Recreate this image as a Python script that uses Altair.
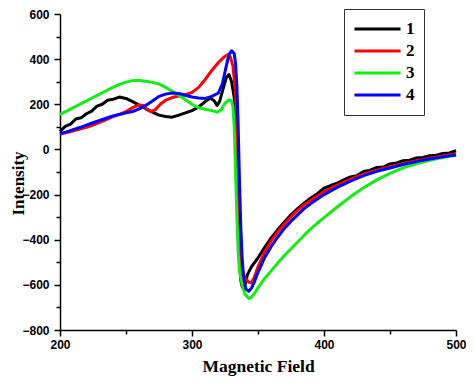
import altair as alt
import pandas as pd

# ---- data ----
FIELD_1 = [200, 204, 208, 212, 216, 220, 224, 228, 232, 236, 240, 245, 250, 255, 260, 265, 270, 275, 280, 285,
           290, 295, 300, 305, 310, 314, 317, 319, 321, 324, 326, 328, 330, 332, 333, 334, 335, 336, 337, 338,
           339, 340, 342, 345, 350, 355, 360, 365, 370, 375, 380, 385, 390, 395, 400, 405, 410, 415, 420, 425,
           430, 435, 440, 445, 450, 455, 460, 465, 470, 475, 480, 485, 490, 495, 500]
INT_1 = [80, 102, 112, 135, 140, 158, 170, 192, 200, 218, 222, 232, 226, 212, 196, 180, 165, 152, 146, 143,
         152, 162, 172, 188, 212, 228, 214, 195, 214, 278, 318, 332, 300, 230, 100, -150, -350, -500, -580, -608,
         -615, -605, -555, -520, -480, -435, -392, -355, -322, -290, -262, -238, -215, -196, -172, -160, -150, -135, -122, -116,
         -98, -92, -80, -78, -64, -60, -50, -48, -38, -36, -28, -26, -18, -16, -6]

FIELD_2 = [200, 205, 210, 215, 220, 225, 230, 235, 240, 245, 250, 255, 260, 263, 266, 269, 272, 276, 280, 285,
           290, 295, 300, 305, 310, 315, 320, 324, 327, 329, 331, 333, 334, 335, 336, 337, 338, 340, 343, 345,
           347, 350, 355, 360, 365, 370, 375, 380, 385, 390, 395, 400, 410, 420, 430, 440, 450, 460, 470, 480,
           490, 500]
INT_2 = [68, 75, 82, 90, 98, 108, 120, 132, 145, 155, 168, 185, 197, 195, 178, 168, 175, 200, 218, 230,
         237, 243, 252, 275, 310, 350, 385, 408, 420, 410, 370, 250, 100, -100, -300, -450, -530, -570, -588, -590,
         -570, -520, -455, -405, -365, -330, -298, -270, -245, -225, -205, -188, -158, -132, -110, -92, -77, -63, -50, -39,
         -29, -20]

FIELD_3 = [200, 205, 210, 215, 220, 225, 230, 235, 240, 245, 250, 255, 260, 265, 270, 275, 280, 285, 290, 295,
           300, 305, 310, 315, 319, 322, 325, 328, 330, 331, 332, 333, 334, 335, 336, 338, 340, 343, 345, 348,
           350, 355, 360, 365, 370, 375, 380, 385, 390, 395, 400, 410, 420, 430, 440, 450, 460, 470, 480, 490,
           500]
INT_3 = [155, 170, 185, 200, 215, 230, 245, 260, 275, 288, 298, 305, 305, 302, 297, 290, 275, 258, 240, 220,
         200, 185, 178, 172, 165, 175, 205, 220, 215, 190, 100, -100, -300, -450, -540, -600, -640, -660, -655, -632,
         -612, -572, -538, -503, -470, -440, -410, -380, -352, -326, -302, -255, -210, -170, -135, -106, -82, -64, -48, -36,
         -25]

FIELD_4 = [200, 205, 210, 215, 220, 225, 230, 235, 240, 245, 250, 255, 260, 265, 270, 275, 280, 285, 290, 295,
           300, 305, 310, 315, 320, 323, 326, 328, 330, 332, 333, 334, 335, 336, 337, 338, 339, 340, 341, 343,
           345, 347, 350, 355, 360, 365, 370, 375, 380, 385, 390, 395, 400, 410, 420, 430, 440, 450, 460, 470,
           480, 490, 500]
INT_4 = [70, 78, 88, 97, 108, 118, 128, 138, 148, 155, 162, 168, 180, 195, 215, 235, 245, 250, 248, 240,
         232, 228, 226, 235, 250, 290, 370, 420, 437, 425, 380, 280, 100, -150, -350, -480, -560, -600, -620, -628,
         -615, -590, -545, -480, -430, -388, -350, -318, -290, -262, -240, -220, -200, -168, -140, -116, -97, -82, -67, -54,
         -42, -33, -25]

SERIES = ["1", "2", "3", "4"]
COLORS = ["#000000", "#ff0000", "#11ee11", "#0000ff"]
X_TICKS = [200, 250, 300, 350, 400, 450, 500]
Y_TICKS = [-800, -700, -600, -500, -400, -300, -200, -100, 0, 100, 200, 300, 400, 500, 600]

rows = []
for name, xs, ys in [("1", FIELD_1, INT_1), ("2", FIELD_2, INT_2), ("3", FIELD_3, INT_3), ("4", FIELD_4, INT_4)]:
    for i, (a, b) in enumerate(zip(xs, ys)):
        rows.append({"series": name, "field": a, "intensity": b, "idx": i})
df = pd.DataFrame(rows)

LABEL_FONT = "Liberation Sans"
TITLE_FONT = "Liberation Serif"

chart = alt.Chart(df).mark_line(strokeWidth=3, strokeJoin="round").encode(
    x=alt.X("field:Q",
            scale=alt.Scale(domain=[200, 500], nice=False, zero=False),
            axis=alt.Axis(title="Magnetic Field", values=X_TICKS, grid=False,
                          labelExpr="datum.value % 100 === 0 ? datum.label : ''",
                          tickSize={"condition": {"test": "datum.value % 100 === 0", "value": 6}, "value": 4},
                          labelFont=LABEL_FONT, labelFontSize=12, labelFontWeight="bold", labelColor="#000",
                          labelPadding=3, tickColor="#000", tickWidth=1.5, domainColor="#000", domainWidth=1.5,
                          titleFont=TITLE_FONT, titleFontSize=17.5, titleFontWeight="bold", titleColor="#000",
                          titleBaseline="alphabetic", titleY=41, labelFlush=False)),
    y=alt.Y("intensity:Q",
            scale=alt.Scale(domain=[-800, 600], nice=False, zero=False),
            axis=alt.Axis(title="Intensity", values=Y_TICKS, grid=False,
                          labelExpr="datum.value % 200 === 0 ? datum.label : ''",
                          tickSize={"condition": {"test": "datum.value % 200 === 0", "value": 6}, "value": 4},
                          labelFont=LABEL_FONT, labelFontSize=12, labelFontWeight="bold", labelColor="#000",
                          labelPadding=5, tickColor="#000", tickWidth=1.5, domainColor="#000", domainWidth=1.5,
                          titleFont=TITLE_FONT, titleFontSize=17, titleFontWeight="bold", titleColor="#000",
                          titleBaseline="alphabetic", titleX=-37, titleY=169, labelFlush=False)),
    color=alt.Color("series:N",
                    scale=alt.Scale(domain=SERIES, range=COLORS),
                    legend=alt.Legend(title=None, orient="none", legendX=284, legendY=-5,
                                      symbolType="stroke", symbolSize=2116, symbolStrokeWidth=3,
                                      clipHeight=22,
                                      labelFont=TITLE_FONT, labelFontSize=17, labelFontWeight="bold",
                                      labelColor="#000", rowPadding=0, padding=9, labelOffset=4,
                                      strokeColor="#333", fillColor="#fff")),
    order=alt.Order("idx:Q"),
    detail="series:N",
).properties(
    width=396,
    height=316,
    padding={"left": 52, "top": 6, "right": 10, "bottom": 47},
    autosize=alt.AutoSizeParams(type="none"),
    background="#ffffff",
).configure_view(stroke=None)

chart.save("out.html", embed_options={"renderer": "svg", "actions": False})
